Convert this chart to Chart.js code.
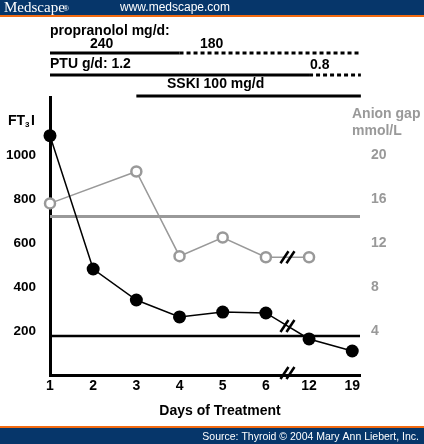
<!DOCTYPE html>
<html>
<head>
<meta charset="utf-8">
<script src="https://cdn.jsdelivr.net/npm/chart.js@4.4.0/dist/chart.umd.min.js"></script>
<style>
  html, body { margin: 0; padding: 0; background: #fff; }
  #wrap { position: relative; width: 424px; height: 444px; }
  canvas { position: absolute; left: 0; top: 0; }
</style>
</head>
<body>
<div id="wrap"><canvas id="chart" width="424" height="444"></canvas></div>
<script>
// values
const days = ['1', '2', '3', '4', '5', '6', '12', '19'];
const ft3i = [1088, 482, 341, 264, 286, 282, 164, 109];
const anionGap = [15.6, null, 18.5, 10.8, 12.5, 10.7, 10.7, null];
const leftTicks = [200, 400, 600, 800, 1000];
const rightTicks = [4, 8, 12, 16, 20];
const ft3iRef = 177;
const anionRef = 14.4;

// drug regimens, as day indexes
const propranolol = { text: 'propranolol mg/d:', first: '240', second: '180', change: 3, end: 7.2 };
const ptu = { text: 'PTU g/d: 1.2', second: '0.8', change: 6, end: 7.2 };
const sski = { text: 'SSKI 100 mg/d', start: 2, end: 7.2 };

const navy = '#06366a';
const orange = '#f26a10';
const gray = '#999999';
const font = '"Liberation Sans", Arial, sans-serif';

const toPoints = arr => arr.map((v, i) => ({ x: i, y: v }));

const decor = {
  id: 'decor',
  beforeDraw(chart) {
    const { ctx, width } = chart;
    ctx.save();
    // header / footer bars
    ctx.fillStyle = navy;
    ctx.fillRect(0, 0, width, 15);
    ctx.fillRect(0, 428, width, 16);
    ctx.fillStyle = orange;
    ctx.fillRect(0, 15, width, 2);
    ctx.fillRect(0, 426, width, 2);
    ctx.fillStyle = '#fff';
    ctx.textBaseline = 'middle';
    ctx.font = '15px "Liberation Serif", serif';
    ctx.fillText('Medscape', 4, 8);
    ctx.font = '8px ' + font;
    ctx.fillText('®', 63, 9);
    ctx.font = '12px ' + font;
    ctx.fillText('www.medscape.com', 120, 8);
    ctx.textAlign = 'right';
    ctx.font = '10.5px ' + font;
    ctx.fillText('Source: Thyroid © 2004 Mary Ann Liebert, Inc.', 419, 437);
    ctx.restore();
  },
  beforeDatasetsDraw(chart) {
    // normal-limit lines
    const { ctx, chartArea } = chart;
    const yl = chart.scales.y, yr = chart.scales.y2;
    ctx.save();
    ctx.setLineDash([]);
    ctx.lineWidth = 3;
    ctx.strokeStyle = gray;
    ctx.beginPath();
    ctx.moveTo(chartArea.left, yr.getPixelForValue(anionRef));
    ctx.lineTo(chartArea.right, yr.getPixelForValue(anionRef));
    ctx.stroke();
    ctx.lineWidth = 2.5;
    ctx.strokeStyle = '#000';
    ctx.beginPath();
    ctx.moveTo(chartArea.left, yl.getPixelForValue(ft3iRef));
    ctx.lineTo(chartArea.right, yl.getPixelForValue(ft3iRef));
    ctx.stroke();
    ctx.restore();
  },
  afterDraw(chart) {
    const { ctx, chartArea } = chart;
    const x = chart.scales.x, yl = chart.scales.y, yr = chart.scales.y2;
    ctx.save();
    ctx.fillStyle = '#000';
    ctx.strokeStyle = '#000';
    ctx.textBaseline = 'middle';
    ctx.font = 'bold 14px ' + font;

    // regimen lines
    const line = (x1, x2, y, dashed) => {
      ctx.beginPath();
      ctx.lineWidth = 3;
      ctx.setLineDash(dashed ? [4, 3] : []);
      ctx.moveTo(x1, y);
      ctx.lineTo(x2, y);
      ctx.stroke();
    };
    ctx.fillText(propranolol.text, 50, 31);
    ctx.fillText(propranolol.first, 90, 44);
    ctx.fillText(propranolol.second, 200, 44);
    line(x.getPixelForValue(0), x.getPixelForValue(propranolol.change), 53, false);
    line(x.getPixelForValue(propranolol.change), x.getPixelForValue(propranolol.end), 53, true);
    ctx.fillText(ptu.text, 50, 64);
    ctx.fillText(ptu.second, 310, 65);
    line(x.getPixelForValue(0), x.getPixelForValue(ptu.change), 75, false);
    line(x.getPixelForValue(ptu.change), x.getPixelForValue(ptu.end), 75, true);
    ctx.fillText(sski.text, 167, 84);
    line(x.getPixelForValue(sski.start), x.getPixelForValue(sski.end), 96, false);
    ctx.setLineDash([]);

    // x axis title
    ctx.textAlign = 'center';
    ctx.fillText('Days of Treatment', 220, 411);
    ctx.textAlign = 'left';

    // axis labels
    ctx.fillText('FT', 8, 121);
    ctx.font = 'bold 8px ' + font;
    ctx.fillText('3', 25, 125);
    ctx.font = 'bold 14px ' + font;
    ctx.fillText('I', 31, 121);
    ctx.fillStyle = gray;
    ctx.fillText('Anion gap', 352, 114);
    ctx.fillText('mmol/L', 352, 131);

    // break marks between day 6 and 12
    const brk = (cx, cy) => {
      ctx.strokeStyle = '#000';
      ctx.lineWidth = 2.5;
      for (const d of [-3, 3]) {
        ctx.beginPath();
        ctx.moveTo(cx + d - 4, cy + 6);
        ctx.lineTo(cx + d + 4, cy - 6);
        ctx.stroke();
      }
    };
    const bx = x.getPixelForValue(5.5);
    brk(bx, yl.getPixelForValue((ft3i[5] + ft3i[6]) / 2));
    brk(bx, yr.getPixelForValue((anionGap[5] + anionGap[6]) / 2));
    brk(bx, chartArea.bottom - 2);
    ctx.restore();
  }
};

new Chart(document.getElementById('chart'), {
  type: 'line',
  data: {
    datasets: [
      {
        label: 'FT3I',
        data: toPoints(ft3i),
        yAxisID: 'y',
        clip: false,
        borderColor: '#000',
        borderWidth: 1.5,
        backgroundColor: '#000',
        pointRadius: 6.5,
        pointBorderWidth: 0,
        order: 1
      },
      {
        label: 'Anion gap',
        data: toPoints(anionGap),
        yAxisID: 'y2',
        clip: false,
        spanGaps: true,
        borderColor: gray,
        borderWidth: 1.5,
        pointBackgroundColor: '#fff',
        pointBorderColor: gray,
        pointBorderWidth: 2.5,
        pointRadius: 5,
        order: 2
      }
    ]
  },
  options: {
    responsive: false,
    animation: false,
    layout: { padding: { top: 97, bottom: 16, left: 0, right: 0 } },
    plugins: { legend: { display: false }, tooltip: { enabled: false } },
    scales: {
      x: {
        type: 'linear',
        min: 0,
        max: 7.18,
        grid: { display: false, drawTicks: false },
        border: { display: true, color: '#000', width: 3 },
        afterBuildTicks: s => { s.ticks = days.map((d, i) => ({ value: i })); },
        afterFit: s => { s.height = 53; },
        ticks: {
          padding: 3,
          color: '#000',
          font: { family: font, size: 14, weight: 'bold' },
          callback: v => days[v]
        }
      },
      y: {
        position: 'left',
        min: 0,
        max: 1264,
        grid: { display: false, drawTicks: false },
        border: { display: true, color: '#000', width: 3 },
        afterBuildTicks: s => { s.ticks = leftTicks.map(v => ({ value: v })); },
        afterFit: s => { s.width = 50; },
        ticks: {
          padding: 14,
          color: '#000',
          font: { family: font, size: 13.5, weight: 'bold' },
          callback: v => String(v)
        }
      },
      y2: {
        position: 'right',
        min: 0,
        max: 25.27,
        grid: { display: false, drawTicks: false },
        border: { display: false },
        afterBuildTicks: s => { s.ticks = rightTicks.map(v => ({ value: v })); },
        afterFit: s => { s.width = 64; },
        ticks: {
          padding: 11,
          color: gray,
          font: { family: font, size: 14, weight: 'bold' },
          callback: v => String(v)
        }
      }
    }
  },
  plugins: [decor]
});
</script>
</body>
</html>
